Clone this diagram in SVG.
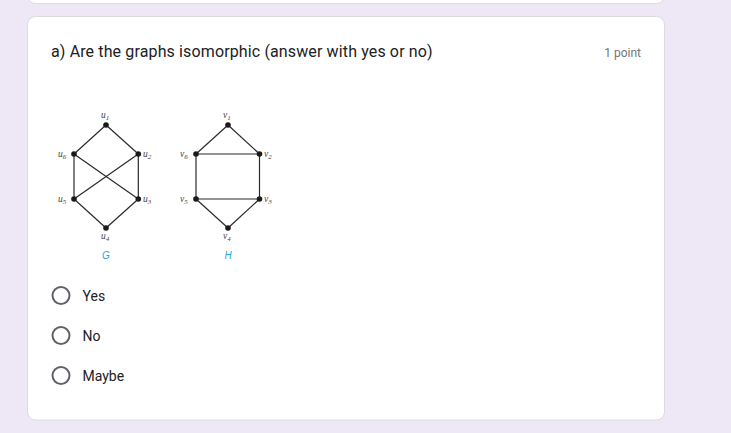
<svg xmlns="http://www.w3.org/2000/svg" width="731" height="433" viewBox="0 0 731 433">
<style>
.card{fill:#ffffff;stroke:#dadce0;stroke-width:1}
.edge{stroke:#2a2a2a;stroke-width:1.2;fill:none}
.node{fill:#1a1a1a}
.lbl{font-family:"Liberation Serif",serif;font-style:italic;font-size:9.5px;fill:#444}
.sub{font-size:7px}
.gname{font-family:"Liberation Sans",sans-serif;font-style:italic;font-size:10px;fill:#2aa6df}
.title{font-family:Roboto,"Liberation Sans",sans-serif;font-size:16px;fill:#202124;letter-spacing:0.13px}
.pts{font-family:Roboto,"Liberation Sans",sans-serif;font-size:12px;fill:#70757a}
.radio{fill:none;stroke:#5f6368;stroke-width:2}
.opt{font-family:Roboto,"Liberation Sans",sans-serif;font-size:14px;fill:#202124}
</style>
<rect x="0" y="0" width="731" height="433" fill="#ede7f6"/>
<rect class="card" x="27.5" y="-20" width="637" height="23.5" rx="8"/>
<rect class="card" x="27.5" y="16.5" width="637" height="403.5" rx="8"/>
<text class="title" x="51" y="57">a) Are the graphs isomorphic (answer with yes or no)</text>
<text class="pts" x="641" y="57" text-anchor="end">1 point</text>

<g id="connectors">
<line class="edge" x1="106" y1="125" x2="138.3" y2="154"/>
<line class="edge" x1="106" y1="125" x2="74" y2="154"/>
<line class="edge" x1="74" y1="154" x2="74" y2="199"/>
<line class="edge" x1="138.3" y1="154" x2="138.3" y2="199"/>
<line class="edge" x1="74" y1="154" x2="138.3" y2="199"/>
<line class="edge" x1="138.3" y1="154" x2="74" y2="199"/>
<line class="edge" x1="74" y1="199" x2="106" y2="228"/>
<line class="edge" x1="138.3" y1="199" x2="106" y2="228"/>
<line class="edge" x1="228" y1="125" x2="259.5" y2="154"/>
<line class="edge" x1="228" y1="125" x2="196" y2="154"/>
<line class="edge" x1="196" y1="154" x2="259.5" y2="154"/>
<line class="edge" x1="196" y1="154" x2="196" y2="199"/>
<line class="edge" x1="259.5" y1="154" x2="259.5" y2="199"/>
<line class="edge" x1="196" y1="199" x2="259.5" y2="199"/>
<line class="edge" x1="196" y1="199" x2="228" y2="228"/>
<line class="edge" x1="259.5" y1="199" x2="228" y2="228"/>
</g>

<g id="u1"><circle class="node" cx="106" cy="125" r="2.8"/><text class="lbl" x="101" y="118">u<tspan class="sub" dy="1.5">1</tspan></text></g>
<g id="u2"><circle class="node" cx="138.3" cy="154" r="2.8"/><text class="lbl" x="143" y="157">u<tspan class="sub" dy="1.5">2</tspan></text></g>
<g id="u3"><circle class="node" cx="138.3" cy="199" r="2.8"/><text class="lbl" x="143" y="202">u<tspan class="sub" dy="1.5">3</tspan></text></g>
<g id="u4"><circle class="node" cx="106" cy="228" r="2.8"/><text class="lbl" x="101" y="239">u<tspan class="sub" dy="1.5">4</tspan></text></g>
<g id="u5"><circle class="node" cx="74" cy="199" r="2.8"/><text class="lbl" x="58" y="202">u<tspan class="sub" dy="1.5">5</tspan></text></g>
<g id="u6"><circle class="node" cx="74" cy="154" r="2.8"/><text class="lbl" x="58" y="157">u<tspan class="sub" dy="1.5">6</tspan></text></g>
<g id="G"><text class="gname" x="106" y="259" text-anchor="middle">G</text></g>

<g id="v1"><circle class="node" cx="228" cy="125" r="2.8"/><text class="lbl" x="223" y="118">v<tspan class="sub" dy="1.5">1</tspan></text></g>
<g id="v2"><circle class="node" cx="259.5" cy="154" r="2.8"/><text class="lbl" x="264" y="157">v<tspan class="sub" dy="1.5">2</tspan></text></g>
<g id="v3"><circle class="node" cx="259.5" cy="199" r="2.8"/><text class="lbl" x="264" y="202">v<tspan class="sub" dy="1.5">3</tspan></text></g>
<g id="v4"><circle class="node" cx="228" cy="228" r="2.8"/><text class="lbl" x="223" y="239">v<tspan class="sub" dy="1.5">4</tspan></text></g>
<g id="v5"><circle class="node" cx="196" cy="199" r="2.8"/><text class="lbl" x="180" y="202">v<tspan class="sub" dy="1.5">5</tspan></text></g>
<g id="v6"><circle class="node" cx="196" cy="154" r="2.8"/><text class="lbl" x="180" y="157">v<tspan class="sub" dy="1.5">6</tspan></text></g>
<g id="H"><text class="gname" x="228" y="259" text-anchor="middle">H</text></g>

<g id="opt-yes"><circle class="radio" cx="61" cy="295.5" r="8.5"/><text class="opt" x="82.5" y="300.5">Yes</text></g>
<g id="opt-no"><circle class="radio" cx="61" cy="335.5" r="8.5"/><text class="opt" x="82.5" y="340.5">No</text></g>
<g id="opt-maybe"><circle class="radio" cx="61" cy="375.5" r="8.5"/><text class="opt" x="82.5" y="380.5">Maybe</text></g>
</svg>
